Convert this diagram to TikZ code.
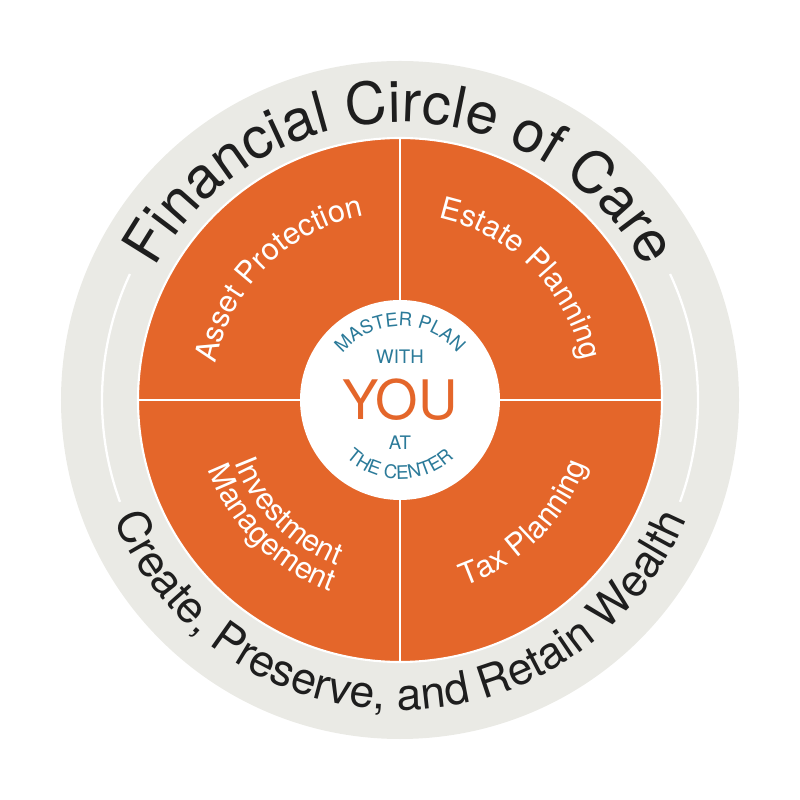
\documentclass[tikz,border=0pt]{standalone}
\usepackage{fontspec}
\setmainfont{TeX Gyre Heros}
\usetikzlibrary{decorations.text}
\definecolor{ringGray}{HTML}{EAEAE5}
\definecolor{wedgeOr}{HTML}{E4662A}
\definecolor{inkDark}{HTML}{1E1E1E}
\definecolor{youBlue}{HTML}{2B7A99}
\newcommand{\fTitle}{\fontsize{16.4}{19}\selectfont}
\newcommand{\fSub}{\fontsize{12.7}{15}\selectfont}
\newcommand{\fQuad}{\fontsize{8.7}{10}\selectfont}
\newcommand{\fSmall}{\fontsize{5.3}{6}\selectfont}
\newcommand{\fYou}{\fontsize{15.5}{18}\selectfont}

\begin{document}
\begin{tikzpicture}[arctext/.style={decorate, decoration={text along path, text align=center, #1}},wline/.style={draw=white, line width=0.8pt},small/.style={font=\fSmall, text=youBlue, inner sep=0pt}]
\useasboundingbox (-4,-4) rectangle (4,4);
\fill[ringGray] (0,0) circle (3.39);
\draw[white, line width=0.65pt] (155:2.98) arc[start angle=155, end angle=200, radius=2.98];
\draw[white, line width=0.65pt] (-20:2.98) arc[start angle=-20, end angle=25, radius=2.98];
\fill[wedgeOr, draw=white, line width=0.6pt] (0,0) circle (2.62);
\draw[wline] (0,2.62) -- (0,-2.62); \draw[wline] (-2.62,0) -- (2.62,0);
\fill[white] (0,0) circle (1.0);
% ring texts
\path[arctext={text={|\fTitle|Financial Circle of Care}, text color=inkDark}] (180:2.78) arc[start angle=180, end angle=0, radius=2.78];
\path[arctext={text={|\fSub|Create, Preserve, and Retain Wealth}, text color=inkDark}] (180:3.1) arc[start angle=180, end angle=360, radius=3.1];
% quadrants
\path[arctext={text={|\fQuad|Asset Protection}, text color=white}] (180:1.88) arc[start angle=180, end angle=90, radius=1.88];
\path[arctext={text={|\fQuad|Estate Planning}, text color=white}] (90:1.86) arc[start angle=90, end angle=0, radius=1.86];
\path[arctext={text={|\fQuad|Tax Planning}, text color=white}] (270:1.97) arc[start angle=270, end angle=360, radius=1.97];
\path[arctext={text={|\fQuad|Investment}, text color=white}] (180:1.77) arc[start angle=180, end angle=270, radius=1.77];
\path[arctext={text={|\fQuad|Management}, text color=white}] (180:2.04) arc[start angle=180, end angle=270, radius=2.04];
% centre
\path[arctext={text={|\fSmall|MASTER PLAN}, text color=youBlue}] (180:0.74) arc[start angle=180, end angle=0, radius=0.74];
\path[arctext={text={|\fSmall|THE CENTER}, text color=youBlue}] (180:0.79) arc[start angle=180, end angle=360, radius=0.79];
\node[small] (with) at (0,0.43) {WITH};
\node[font=\fYou, text=wedgeOr, inner sep=0pt] (you) at (0,0) {YOU};
\node[small] (at) at (0,-0.43) {AT};
\end{tikzpicture}
\end{document}
